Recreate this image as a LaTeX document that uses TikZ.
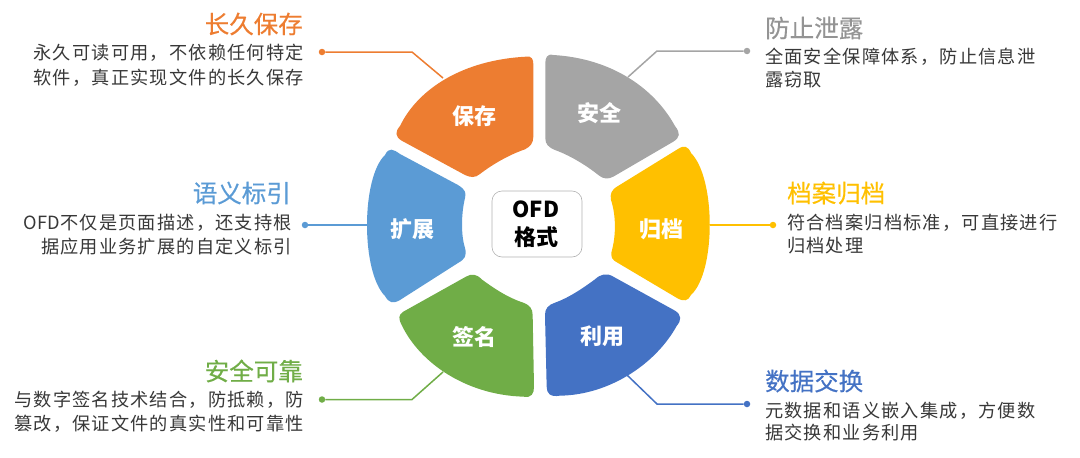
\documentclass[tikz,border=0pt]{standalone}
\usepackage{fontspec}
\setmainfont{Noto Sans CJK SC}
\newfontfamily\bodyf[LetterSpace=6.5]{Noto Sans CJK SC}
\newfontfamily\latinf[LetterSpace=1.5]{Noto Sans CJK SC}
\newfontfamily\titlef[FakeBold=0.4]{Noto Sans CJK SC}
\definecolor{cOrange}{HTML}{ED7D31}
\definecolor{cGray}{HTML}{A5A5A5}
\definecolor{cYellow}{HTML}{FFC000}
\definecolor{cBlue}{HTML}{5B9BD5}
\definecolor{cGreen}{HTML}{70AD47}
\definecolor{cNavy}{HTML}{4472C4}
\tikzset{
  petallabel/.style={text=white,font=\fontsize{22}{24}\selectfont\bfseries,inner sep=0pt},
  titletext/.style={font=\titlef\fontsize{24.5}{26}\selectfont,inner sep=0pt},
  bodytext/.style={text=black!78,font=\bodyf\fontsize{18.2}{20}\selectfont,inner sep=0pt},
  enddot/.style={circle,fill=#1,inner sep=0pt,minimum size=6.5pt},
  leader/.style={draw=#1,line width=1.5pt},
}
\begin{document}
\begin{tikzpicture}[x=1pt,y=-1pt]
\useasboundingbox (0,0) rectangle (1080,458);
% petals
\begin{scope}[shift={(360,40)},x=0.33333pt,y=-0.33333pt]
\fill[cOrange] (498,50) .. controls (515,47) and (521,58) .. (520,75) -- (520,290) .. controls (520,310) and (510,320) .. (495,328) .. controls (445,345) and (395,375) .. (360,402) .. controls (345,415) and (330,412) .. (315,405) -- (125,302) .. controls (105,290) and (105,275) .. (120,258) .. controls (175,145) and (310,60) .. (498,50) -- cycle;
\fill[cGray] (580,45) .. controls (560,40) and (556,55) .. (556,70) -- (556,295) .. controls (556,312) and (565,322) .. (585,330) .. controls (640,350) and (690,385) .. (715,405) .. controls (730,418) and (745,418) .. (760,410) -- (940,305) .. controls (960,292) and (962,280) .. (945,258) .. controls (880,140) and (750,55) .. (580,45) -- cycle;
\end{scope}
\begin{scope}[shift={(360,220)},x=0.33333pt,y=-0.33333pt]
\fill[cNavy] (560,500) -- (555,285) .. controls (555,265) and (565,255) .. (585,248) .. controls (630,232) and (675,200) .. (705,178) .. controls (722,162) and (740,158) .. (760,170) -- (945,272) .. controls (965,285) and (965,300) .. (950,318) .. controls (885,435) and (745,525) .. (600,527) .. controls (570,532) and (560,520) .. (560,500) -- cycle;
\fill[cGreen] (522,500) -- (518,285) .. controls (518,265) and (508,255) .. (490,248) .. controls (440,232) and (395,200) .. (365,178) .. controls (350,162) and (335,160) .. (318,170) -- (130,275) .. controls (115,285) and (115,295) .. (125,315) .. controls (180,430) and (320,525) .. (490,530) .. controls (515,535) and (522,520) .. (522,500) -- cycle;
\end{scope}
\fill[cBlue] (400,154) -- (458,185) .. controls (466,190) and (466,193) .. (465,198) .. controls (461,215) and (461,235) .. (465,248) .. controls (467,256) and (465,259) .. (458,263) -- (400,300) .. controls (393,304) and (389,303) .. (385,296) .. controls (361,272) and (361,178) .. (385,155) .. controls (389,147) and (393,149) .. (400,154) -- cycle;
\fill[cYellow] (678,149) -- (618,186) .. controls (611,190) and (610,194) .. (611,200) .. controls (616,215) and (616,235) .. (612,250) .. controls (610,257) and (612,260) .. (618,263) -- (677,298) .. controls (684,302) and (688,301) .. (691,295) .. controls (716,272) and (716,178) .. (691,153) .. controls (688,146) and (684,145) .. (678,149) -- cycle;
% centre
\node[draw=black!30,line width=0.6pt,rounded corners=10pt,fill=white,minimum width=90pt,minimum height=66pt,inner sep=0pt] (hub) at (537,224) {};
\node[font=\fontsize{22}{24}\selectfont\bfseries,inner sep=0pt] (hubA) at (536,209) {OFD};
\node[font=\fontsize{22}{24}\selectfont\bfseries,inner sep=0pt] (hubB) at (536,237) {格式};
% petal labels
\node[petallabel] (pOrange) at (474,116) {保存};
\node[petallabel] (pGray) at (599,113) {安全};
\node[petallabel] (pBlue) at (412,229) {扩展};
\node[petallabel] (pYellow) at (661,229) {归档};
\node[petallabel] (pGreen) at (474,337) {签名};
\node[petallabel] (pNavy) at (602,336) {利用};
% connectors
\coordinate (eOrange) at (412,52); \coordinate (tOrange) at (443,78);
\coordinate (eGray) at (657,51); \coordinate (tGray) at (628,77);
\coordinate (tBlue) at (368,225);
\coordinate (tYellow) at (710,225);
\coordinate (eGreen) at (412,399.5); \coordinate (tGreen) at (443,372);
\coordinate (eNavy) at (657,404); \coordinate (tNavy) at (627,375);
\node[enddot=cOrange] (dOrange) at (322,52) {};
\node[enddot=cGray] (dGray) at (747,51) {};
\node[enddot=cBlue] (dBlue) at (305,225) {};
\node[enddot=cYellow] (dYellow) at (773,225) {};
\node[enddot=cGreen] (dGreen) at (322,399.5) {};
\node[enddot=cNavy] (dNavy) at (747,404) {};
\draw[leader=cOrange] (dOrange) -- (eOrange) -- (tOrange);
\draw[leader=cGray] (dGray) -- (eGray) -- (tGray);
\draw[leader=cBlue] (dBlue) -- (tBlue);
\draw[leader=cYellow] (dYellow) -- (tYellow);
\draw[leader=cGreen] (dGreen) -- (eGreen) -- (tGreen);
\draw[leader=cNavy] (dNavy) -- (eNavy) -- (tNavy);
% text: top left
\node[titletext,text=cOrange,anchor=east] (t1) at (303,24) {长久保存};
\node[bodytext,anchor=east] (b1a) at (304,53) {永久可读可用，不依赖任何特定};
\node[bodytext,anchor=east] (b1b) at (304,78) {软件，真正实现文件的长久保存};
% top right
\node[titletext,text=cGray!90!black,anchor=west] (t2) at (765,28) {防止泄露};
\node[bodytext,anchor=west] (b2a) at (765,57) {全面安全保障体系，防止信息泄};
\node[bodytext,anchor=west] (b2b) at (765,80) {露窃取};
% middle left
\node[titletext,text=cBlue,anchor=east] (t3) at (291,193) {语义标引};
\node[bodytext,anchor=east] (b3a) at (292,223) {{\latinf OFD}不仅是页面描述，还支持根};
\node[bodytext,anchor=east] (b3b) at (292,247) {据应用业务扩展的自定义标引};
% middle right
\node[titletext,text=cYellow,anchor=west] (t4) at (787,193) {档案归档};
\node[bodytext,anchor=west] (b4a) at (787,223) {符合档案归档标准，可直接进行};
\node[bodytext,anchor=west] (b4b) at (787,246) {归档处理};
% bottom left
\node[titletext,text=cGreen,anchor=east] (t5) at (303,371) {安全可靠};
\node[bodytext,anchor=east] (b5a) at (304,400) {与数字签名技术结合，防抵赖，防};
\node[bodytext,anchor=east] (b5b) at (304,424) {篡改，保证文件的真实性和可靠性};
% bottom right
\node[titletext,text=cNavy,anchor=west] (t6) at (765,381) {数据交换};
\node[bodytext,anchor=west] (b6a) at (765,411) {元数据和语义嵌入集成，方便数};
\node[bodytext,anchor=west] (b6b) at (765,433) {据交换和业务利用};
\end{tikzpicture}
\end{document}
